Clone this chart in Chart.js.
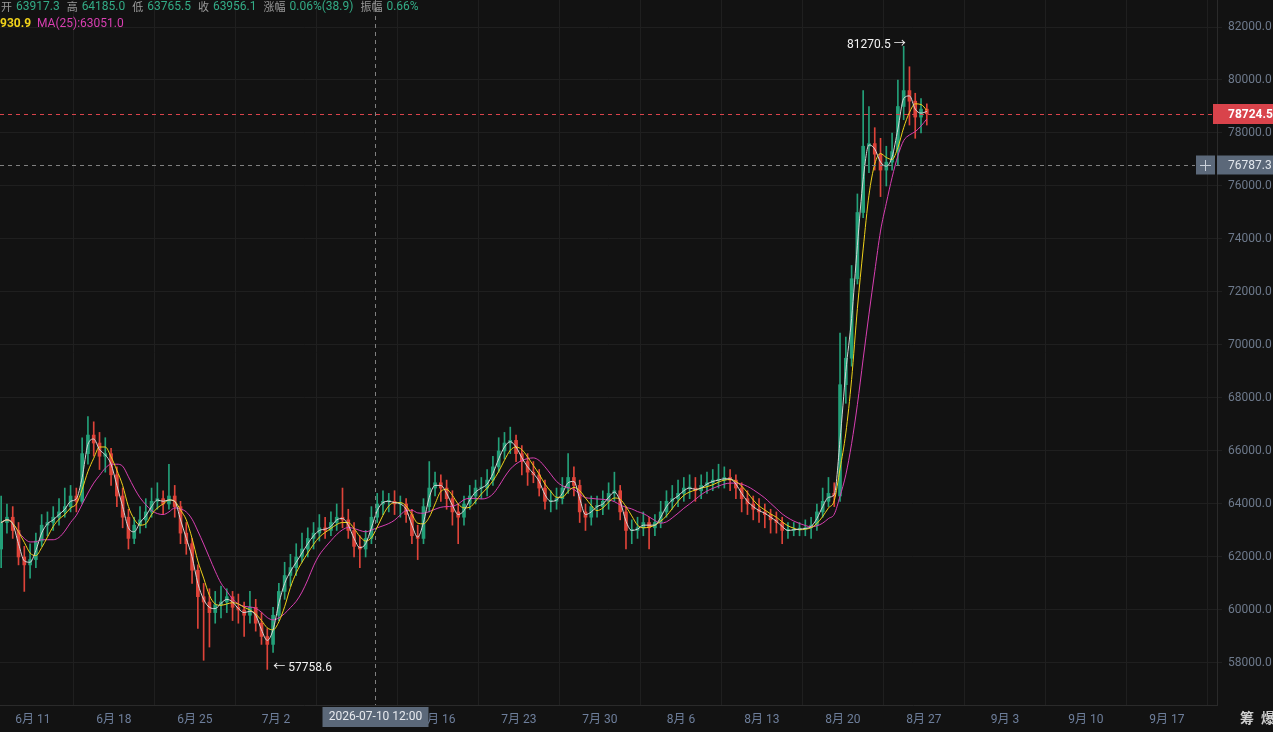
<!DOCTYPE html>
<html>
<head>
<meta charset="utf-8">
<script src="https://cdn.jsdelivr.net/npm/chart.js@4.4.0/dist/chart.umd.min.js"></script>
<style>
  html, body { margin: 0; padding: 0; background: #121212; overflow: hidden; }
</style>
</head>
<body>
<canvas id="myChart" width="1273" height="732"></canvas>
<script>
// Candles: 12h bars starting 2026-06-08 00:00 (day 0 = 6月11)
const firstCandleDay = -2.75;
const candleStep = 0.5;

const opens = [
  62300, 63300, 63500, 63000, 62000, 61700, 61900, 62600, 63200, 63300,
  63500, 63700, 63900, 64300, 64100, 65900, 66600, 66300, 65800, 65900,
  65100, 64300, 63500, 62700, 63200, 63400, 63700, 64100, 64200, 64000,
  64300, 63900, 62900, 62500, 61500, 60500, 60300, 59900, 60200, 60300,
  60500, 60100, 60000, 59800, 60100, 59500, 59000, 58700, 59800, 60700,
  61300, 61600, 62000, 62300, 62700, 62900, 63100, 63000, 63300, 63500,
  63400, 63000, 62400, 62300, 62700, 63500, 64000, 64100, 64100, 64000,
  64000, 63600, 62800, 62700, 63900, 64600, 64800, 64600, 64200, 63700,
  63500, 64000, 64300, 64600, 64600, 64900, 65400, 66000, 66300, 66400,
  65900, 65600, 65200, 65100, 64600, 64100, 64100, 64200, 64600, 65000,
  64700, 63700, 63500, 63900, 63900, 64100, 64400, 64500, 63700, 63000,
  63000, 63100, 63300, 63100, 63300, 63700, 64100, 64200, 64400, 64600,
  64600, 64500, 64700, 64800, 64900, 64900, 65000, 64900, 64600, 64200,
  64000, 63800, 63700, 63600, 63400, 63300, 63000, 63000, 63050, 63050,
  63100, 63200, 63700, 64100, 64400, 64300, 68500, 69500, 72500, 75000,
  77500, 77600, 77200, 76600, 76900, 77300, 79000, 79600, 79200, 78600,
  78900
];
const highs = [
  64300, 64000, 63900, 63300, 62400, 62500, 62900, 63600, 63700, 63900,
  64200, 64600, 64700, 64600, 66500, 67300, 67100, 66700, 66500, 66100,
  65400, 64600, 63800, 63500, 63900, 64200, 64600, 64800, 64500, 65500,
  64700, 64100, 63300, 62700, 61700, 61000, 60800, 60700, 60900, 60800,
  60700, 60600, 60300, 60700, 60400, 59900, 59300, 60100, 61000, 61800,
  62100, 62500, 62900, 63100, 63300, 63600, 63500, 63700, 64000, 64600,
  63800, 63300, 62800, 63000, 63900, 64400, 64500, 64400, 64500, 64300,
  64200, 63800, 63200, 64200, 65600, 65200, 65100, 64900, 64500, 64000,
  64300, 64700, 64900, 65000, 65300, 65800, 66500, 66700, 66900, 66600,
  66200, 65900, 65600, 65300, 64900, 64500, 64600, 65000, 65900, 65400,
  64900, 64000, 64300, 64300, 64500, 64800, 65200, 64700, 63900, 63400,
  63500, 63700, 63500, 63600, 64100, 64500, 64700, 64900, 65000, 65100,
  65000, 65100, 65200, 65300, 65500, 65400, 65300, 65100, 64800, 64500,
  64300, 64200, 64000, 63800, 63700, 63500, 63300, 63300, 63300, 63400,
  63500, 64000, 64600, 65000, 64800, 70450, 70300, 73000, 75700, 79600,
  79000, 78200, 77800, 77500, 78000, 80000, 81270.5, 80500, 79500, 79300,
  79100
];
const lows = [
  61600, 62900, 62700, 61700, 60700, 61200, 61600, 62400, 62800, 63000,
  63200, 63500, 63700, 63700, 64000, 65500, 65800, 65300, 65200, 64700,
  63900, 63100, 62300, 62500, 62900, 63100, 63500, 63800, 63600, 63800,
  63500, 62500, 62100, 61000, 59300, 58100, 58600, 59500, 59700, 59900,
  59600, 59500, 59000, 59500, 59200, 58700, 57758.6, 58400, 59600, 60400,
  60900, 61300, 61800, 62000, 62300, 62600, 62700, 62800, 63000, 63100,
  62700, 62000, 61600, 62000, 62500, 63300, 63600, 63700, 63600, 63500,
  63300, 62500, 61900, 62500, 63700, 64300, 64100, 63800, 63200, 62500,
  63200, 63800, 64000, 64200, 64300, 64700, 65200, 65700, 65900, 65600,
  65100, 64700, 64800, 64300, 63800, 63700, 63800, 64000, 64400, 64300,
  63300, 63000, 63200, 63500, 63600, 63800, 64100, 63400, 62300, 62500,
  62700, 62800, 62300, 62800, 63100, 63500, 63800, 63900, 64100, 64200,
  64100, 64200, 64400, 64500, 64600, 64600, 64500, 64200, 63700, 63600,
  63400, 63300, 63100, 62900, 62900, 62500, 62700, 62800, 62800, 62800,
  62700, 63000, 63500, 63900, 63900, 64100, 67800, 69200, 72300, 74800,
  76500, 76600, 75600, 76000, 76600, 76800, 78500, 78300, 77800, 78000,
  78300
];
const closes = [
  63300, 63500, 63000, 62000, 61700, 61900, 62600, 63200, 63300, 63500,
  63700, 63900, 64300, 64100, 65900, 66600, 66300, 65800, 65900, 65100,
  64300, 63500, 62700, 63200, 63400, 63700, 64100, 64200, 64000, 64300,
  63900, 62900, 62500, 61500, 60500, 60300, 59900, 60200, 60300, 60500,
  60100, 60000, 59800, 60100, 59500, 59000, 58700, 59800, 60700, 61300,
  61600, 62000, 62300, 62700, 62900, 63100, 63000, 63300, 63500, 63400,
  63000, 62400, 62300, 62700, 63500, 64000, 64100, 64100, 64000, 64000,
  63600, 62800, 62700, 63900, 64600, 64800, 64600, 64200, 63700, 63500,
  64000, 64300, 64600, 64600, 64900, 65400, 66000, 66300, 66400, 65900,
  65600, 65200, 65100, 64600, 64100, 64100, 64200, 64600, 65000, 64700,
  63700, 63500, 63900, 63900, 64100, 64400, 64500, 63700, 63000, 63000,
  63100, 63300, 63100, 63300, 63700, 64100, 64200, 64400, 64600, 64600,
  64500, 64700, 64800, 64900, 64900, 65000, 64900, 64600, 64200, 64000,
  63800, 63700, 63600, 63400, 63300, 63000, 63000, 63050, 63050, 63100,
  63200, 63700, 64100, 64400, 64300, 68500, 69500, 72500, 75000, 77500,
  77600, 77200, 76600, 76900, 77300, 79000, 79600, 79200, 78600, 78900,
  78724.5
];

// Axis ticks
const tickDays = [0, 7, 14, 21, 28, 35, 42, 49, 56, 63, 70, 77, 84, 91, 98];
const tickLabels = ['6月 11', '6月 18', '6月 25', '7月 2', '7月 9', '7月 16', '7月 23', '7月 30',
  '8月 6', '8月 13', '8月 20', '8月 27', '9月 3', '9月 10', '9月 17'];
const priceTicks = [58000, 60000, 62000, 64000, 66000, 68000, 70000, 72000, 74000, 76000, 78000, 80000, 82000];

// Moving averages (periods in 12h bars), white / yellow / magenta
const maPeriods = [2, 4, 8];
const maColors = ['#d6d6d6', '#f0d21a', '#d93fb2'];

// Header (crosshair bar 2026-07-10 12:00)
const headerLabels = ['开', '高', '低', '收', '涨幅', '振幅'];
const headerValues = ['63917.3', '64185.0', '63765.5', '63956.1', '0.06%(38.9)', '0.66%'];
const maLegend = ['930.9', 'MA(25):63051.0'];

// Markers
const lastPrice = 78724.5;
const crossPrice = 76787.3;
const crossDay = 29.58;
const crossLabel = '2026-07-10 12:00';
const highMark = 81270.5;
const lowMark = 57758.6;

const green = '#23a079';
const red = '#de4339';
const bg = '#121212';
const gridColor = '#1f1f1f';
const font = 'Roboto, "Noto Sans CJK SC", sans-serif';

const dayOf = i => firstCandleDay + i * candleStep;
const colorOf = i => (closes[i] >= opens[i] ? green : red);

function movingAverage(period) {
  return closes.map((c, i) => {
    const part = closes.slice(Math.max(0, i - period + 1), i + 1);
    return { x: dayOf(i), y: part.reduce((s, v) => s + v, 0) / part.length };
  });
}

const overlay = {
  id: 'overlay',
  beforeDraw(chart) {
    const ctx = chart.ctx;
    ctx.save();
    ctx.fillStyle = bg;
    ctx.fillRect(0, 0, chart.width, chart.height);
    ctx.restore();
  },
  afterDraw(chart) {
    const { ctx, chartArea: a, scales: { x, y } } = chart;
    ctx.save();
    ctx.lineWidth = 1;

    // last price line
    const yl = Math.round(y.getPixelForValue(lastPrice)) + 0.5;
    ctx.setLineDash([4, 4]);
    ctx.strokeStyle = '#d9434b';
    ctx.beginPath(); ctx.moveTo(a.left, yl); ctx.lineTo(a.right - 4, yl); ctx.stroke();

    // crosshair
    const yc = Math.round(y.getPixelForValue(crossPrice)) + 0.5;
    const xc = Math.round(x.getPixelForValue(crossDay)) + 0.5;
    ctx.strokeStyle = '#808080';
    ctx.beginPath(); ctx.moveTo(a.left, yc); ctx.lineTo(a.right - 22, yc); ctx.stroke();
    ctx.beginPath(); ctx.moveTo(xc, a.top); ctx.lineTo(xc, a.bottom); ctx.stroke();
    ctx.setLineDash([]);

    ctx.textBaseline = 'middle';
    // last price tag
    ctx.fillStyle = '#d9434b';
    ctx.fillRect(a.right - 4, yl - 10.5, chart.width - a.right + 4, 20);
    ctx.fillStyle = '#ffffff';
    ctx.font = 'bold 12px ' + font;
    ctx.fillText(lastPrice.toFixed(1), a.right + 11, yl);

    // crosshair price tag + plus button
    ctx.fillStyle = '#5b6879';
    ctx.fillRect(a.right, yc - 10, chart.width - a.right, 19);
    ctx.fillRect(a.right - 21, yc - 10, 19, 19);
    ctx.strokeStyle = '#c9d0da';
    ctx.beginPath();
    ctx.moveTo(a.right - 17, yc); ctx.lineTo(a.right - 6, yc);
    ctx.moveTo(a.right - 11.5, yc - 5.5); ctx.lineTo(a.right - 11.5, yc + 5.5);
    ctx.stroke();
    ctx.fillStyle = '#e3e8ee';
    ctx.font = '12px ' + font;
    ctx.fillText(crossPrice.toFixed(1), a.right + 11, yc);

    // crosshair time tag
    ctx.fillStyle = '#5b6879';
    ctx.fillRect(xc - 53, a.bottom + 2, 106, 20);
    ctx.fillStyle = '#e6e9ee';
    ctx.textAlign = 'center';
    ctx.fillText(crossLabel, xc, a.bottom + 12);

    // high / low markers
    const hi = highs.indexOf(highMark), lo = lows.indexOf(lowMark);
    ctx.fillStyle = '#f2f2f2';
    ctx.textAlign = 'right';
    ctx.fillText(highMark.toFixed(1) + ' →', x.getPixelForValue(dayOf(hi)) + 2, y.getPixelForValue(highMark) - 1);
    ctx.textAlign = 'left';
    ctx.fillText('← ' + lowMark.toFixed(1), x.getPixelForValue(dayOf(lo)) + 6, y.getPixelForValue(lowMark) - 1);

    // header: labels then values, laid out left to right
    let hx = 1;
    headerLabels.forEach((t, i) => {
      ctx.font = '11px "Noto Sans CJK SC", sans-serif';
      ctx.fillStyle = '#9a9a9a';
      ctx.fillText(t, hx, 7);
      hx += ctx.measureText(t).width + 4;
      ctx.font = '12px ' + font;
      ctx.fillStyle = '#33ab86';
      ctx.fillText(headerValues[i], hx, 7);
      hx += ctx.measureText(headerValues[i]).width + 7;
    });
    ctx.font = 'bold 12px ' + font;
    ctx.fillStyle = maColors[1];
    ctx.fillText(maLegend[0], 0, 24);
    ctx.font = '12px ' + font;
    ctx.fillStyle = maColors[2];
    ctx.fillText(maLegend[1], 37, 24);

    // bottom right tools
    ctx.font = 'bold 14px ' + font;
    ctx.fillStyle = '#cfcfcf';
    ctx.fillText('筹  爆', 1240, 719);
    ctx.restore();
  }
};

const ctx = document.getElementById('myChart').getContext('2d');

const myChart = new Chart(ctx, {
  type: 'bar',
  data: {
    datasets: [
      ...maPeriods.map((p, k) => ({
        type: 'line',
        label: 'MA' + p,
        data: movingAverage(p),
        borderColor: maColors[k],
        borderWidth: 1,
        pointRadius: 0,
        cubicInterpolationMode: 'monotone',
        order: k
      })),
      {
        label: 'body',
        data: closes.map((c, i) => ({ x: dayOf(i), y: [opens[i], c] })),
        backgroundColor: c => colorOf(c.dataIndex),
        barThickness: 3,
        minBarLength: 1,
        grouped: false,
        order: 5
      },
      {
        label: 'wick',
        data: closes.map((c, i) => ({ x: dayOf(i), y: [lows[i], highs[i]] })),
        backgroundColor: c => colorOf(c.dataIndex),
        barThickness: 1,
        grouped: false,
        order: 6
      }
    ]
  },
  options: {
    responsive: false,
    animation: false,
    devicePixelRatio: 1,
    layout: { padding: 0 },
    plugins: { legend: { display: false }, tooltip: { enabled: false } },
    scales: {
      x: {
        type: 'linear',
        min: -2.85,
        max: 102.33,
        offset: false,
        afterBuildTicks: s => { s.ticks = tickDays.map(v => ({ value: v })); },
        afterFit: s => { s.height = 27; s.paddingLeft = 0; s.paddingRight = 0; },
        grid: { color: gridColor, drawTicks: false },
        border: { color: '#2a2a2a' },
        ticks: {
          color: '#6e7f9c',
          font: { family: font, size: 12 },
          padding: 8,
          maxRotation: 0,
          autoSkip: false,
          callback: v => tickLabels[tickDays.indexOf(v)]
        }
      },
      y: {
        position: 'right',
        min: 56413,
        max: 83019,
        afterBuildTicks: s => { s.ticks = priceTicks.map(v => ({ value: v })); },
        afterFit: s => { s.width = 56; s.paddingTop = 0; s.paddingBottom = 0; },
        grid: { color: gridColor, tickLength: 5 },
        border: { color: '#2a2a2a' },
        ticks: {
          color: '#6d798b',
          font: { family: font, size: 12 },
          padding: 6,
          callback: v => v.toFixed(1)
        }
      }
    }
  },
  plugins: [overlay]
});
</script>
</body>
</html>
